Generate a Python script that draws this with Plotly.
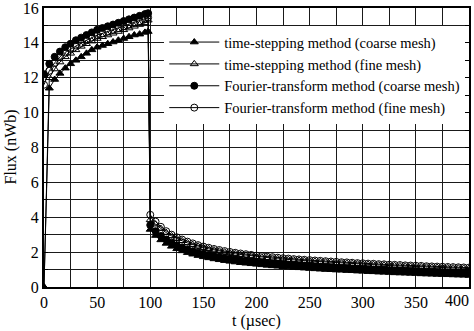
import plotly.graph_objects as go

# ---- data ----
t_rise = [0, 5, 10, 15, 20, 25, 30, 35, 40, 45, 50, 55, 60, 65, 70, 75, 80, 85, 90, 95, 98]
t_decay = [100, 105, 110, 115, 120, 125, 130, 135, 140, 145,
           150, 155, 160, 165, 170, 175, 180, 185, 190, 195,
           200, 205, 210, 215, 220, 225, 230, 235, 240, 245,
           250, 255, 260, 265, 270, 275, 280, 285, 290, 295,
           300, 305, 310, 315, 320, 325, 330, 335, 340, 345,
           350, 355, 360, 365, 370, 375, 380, 385, 390, 395, 400]

tsc_rise = [0.0, 11.4, 11.9, 12.25, 12.55, 12.8, 13.0, 13.2, 13.4, 13.6, 13.75, 13.85,
            13.95, 14.05, 14.15, 14.25, 14.35, 14.45, 14.5, 14.6, 14.65]
tsf_rise = [0.0, 12.0, 12.5, 12.9, 13.2, 13.4, 13.6, 13.8, 13.95, 14.1, 14.25, 14.35,
            14.45, 14.55, 14.65, 14.75, 14.85, 14.95, 15.05, 15.15, 15.3]
ftc_rise = [12.2, 12.8, 13.2, 13.5, 13.75, 13.95, 14.15, 14.3, 14.45, 14.6, 14.75, 14.85,
            14.95, 15.05, 15.15, 15.25, 15.35, 15.45, 15.55, 15.65, 15.7]
ftf_rise = [11.6, 12.4, 12.85, 13.2, 13.45, 13.65, 13.85, 14.0, 14.15, 14.3, 14.45, 14.55,
            14.65, 14.75, 14.85, 14.95, 15.05, 15.15, 15.25, 15.35, 15.45]

tsc_decay = [3.3, 2.95, 2.7, 2.5, 2.33, 2.19, 2.07, 1.97, 1.88, 1.8,
             1.73, 1.67, 1.61, 1.56, 1.51, 1.47, 1.43, 1.39, 1.36, 1.33,
             1.3, 1.27, 1.24, 1.21, 1.19, 1.16, 1.14, 1.12, 1.1, 1.08,
             1.06, 1.04, 1.02, 1.0, 0.99, 0.97, 0.96, 0.94, 0.93, 0.91,
             0.9, 0.88, 0.87, 0.85, 0.84, 0.83, 0.81, 0.8, 0.79, 0.78,
             0.77, 0.75, 0.74, 0.73, 0.72, 0.71, 0.7, 0.69, 0.68, 0.67, 0.66]
tsf_decay = [3.85, 3.6, 3.35, 3.12, 2.93, 2.78, 2.65, 2.53, 2.43, 2.34,
             2.26, 2.19, 2.12, 2.06, 2.0, 1.95, 1.9, 1.86, 1.82, 1.78,
             1.74, 1.71, 1.68, 1.65, 1.62, 1.6, 1.57, 1.55, 1.53, 1.51,
             1.49, 1.47, 1.45, 1.43, 1.41, 1.39, 1.37, 1.36, 1.34, 1.32,
             1.31, 1.29, 1.28, 1.26, 1.25, 1.23, 1.22, 1.21, 1.19, 1.18,
             1.17, 1.16, 1.14, 1.13, 1.12, 1.11, 1.1, 1.09, 1.08, 1.07, 1.06]
ftc_decay = [3.55, 3.2, 2.93, 2.72, 2.54, 2.39, 2.26, 2.15, 2.05, 1.97,
             1.9, 1.84, 1.78, 1.72, 1.67, 1.62, 1.58, 1.54, 1.5, 1.47,
             1.44, 1.41, 1.38, 1.35, 1.33, 1.3, 1.28, 1.26, 1.24, 1.22,
             1.2, 1.18, 1.16, 1.14, 1.13, 1.11, 1.09, 1.08, 1.06, 1.05,
             1.03, 1.02, 1.0, 0.99, 0.98, 0.96, 0.95, 0.94, 0.93, 0.92,
             0.91, 0.89, 0.88, 0.87, 0.86, 0.85, 0.84, 0.83, 0.82, 0.81, 0.8]
ftf_decay = [4.14, 3.75, 3.45, 3.2, 3.0, 2.85, 2.72, 2.6, 2.5, 2.4,
             2.32, 2.25, 2.18, 2.12, 2.06, 2.01, 1.96, 1.92, 1.88, 1.84,
             1.8, 1.77, 1.74, 1.71, 1.68, 1.65, 1.63, 1.6, 1.58, 1.56,
             1.54, 1.52, 1.5, 1.48, 1.46, 1.44, 1.42, 1.41, 1.39, 1.37,
             1.36, 1.34, 1.33, 1.31, 1.3, 1.28, 1.27, 1.26, 1.24, 1.23,
             1.22, 1.21, 1.19, 1.18, 1.17, 1.16, 1.15, 1.14, 1.13, 1.12, 1.11]

names = ["time-stepping method (coarse mesh)", "time-stepping method (fine mesh)",
         "Fourier-transform method (coarse mesh)", "Fourier-transform method (fine mesh)"]
x_ticks = [0, 50, 100, 150, 200, 250, 300, 350]
y_ticks = [0, 2, 4, 6, 8, 10, 12, 14, 16]

FONT = "Liberation Serif, Times New Roman, serif"

series = [
    (tsc_rise, tsc_decay, "triangle-up", "black"),
    (tsf_rise, tsf_decay, "triangle-up-open", "black"),
    (ftc_rise, ftc_decay, "circle", "black"),
    (ftf_rise, ftf_decay, "circle-open", "black"),
]

fig = go.Figure()
for name, (r, d, sym, col) in zip(names, series):
    fig.add_trace(go.Scatter(
        x=t_rise + t_decay, y=r + d, name=name, mode="lines+markers",
        line=dict(color="black", width=1),
        marker=dict(symbol=sym, size=7, color=col,
                    line=dict(color="black", width=1)),
    ))

grid = "#1a1a1a"
fig.update_layout(
    width=474, height=331,
    margin=dict(l=44, r=5, t=8, b=44),
    paper_bgcolor="white", plot_bgcolor="white",
    font=dict(family=FONT, size=16, color="black"),
    showlegend=True,
    legend=dict(x=0.283, y=0.935, xanchor="left", yanchor="top",
                bgcolor="white", borderwidth=0, font=dict(size=14.5, family=FONT),
                itemwidth=50, tracegroupgap=0),
    annotations=[
        dict(x=400, xref="x", y=0, yref="paper", text="400",
             showarrow=False, xanchor="right", yanchor="top",
             xshift=2, yshift=-3, font=dict(size=16, family=FONT)),
        dict(x=0.5, xref="paper", y=0, yref="paper", text="t (\u00b5sec)",
             showarrow=False, xanchor="center", yanchor="top",
             yshift=-23, font=dict(size=16, family=FONT)),
        dict(x=0, xref="paper", xshift=-34, y=0.5, yref="paper", text="Flux (nWb)",
             showarrow=False, xanchor="center", yanchor="middle", textangle=-90,
             font=dict(size=16, family=FONT)),
    ],
)
fig.update_xaxes(
    range=[0, 400], tickvals=x_ticks, showgrid=True, gridcolor=grid, gridwidth=1.2,
    minor=dict(dtick=25, showgrid=True, gridcolor=grid, gridwidth=1.2),
    showline=True, linecolor="black", linewidth=2, mirror=True,
    zeroline=False, ticks="", automargin=False, ticklabeloverflow="allow",
    tickfont=dict(size=16, family=FONT),
)
fig.update_yaxes(
    range=[0, 16], tickvals=y_ticks, showgrid=True, gridcolor=grid, gridwidth=1.2,
    minor=dict(dtick=1, showgrid=True, gridcolor=grid, gridwidth=1.2,
               ticks="inside", ticklen=4, tickcolor="black"),
    showline=True, linecolor="black", linewidth=2, mirror="ticks",
    ticks="inside", ticklen=4, tickcolor="black",
    zeroline=False, automargin=False, ticklabeloverflow="allow",
    tickfont=dict(size=16, family=FONT),
)

fig.write_html("out.html")
